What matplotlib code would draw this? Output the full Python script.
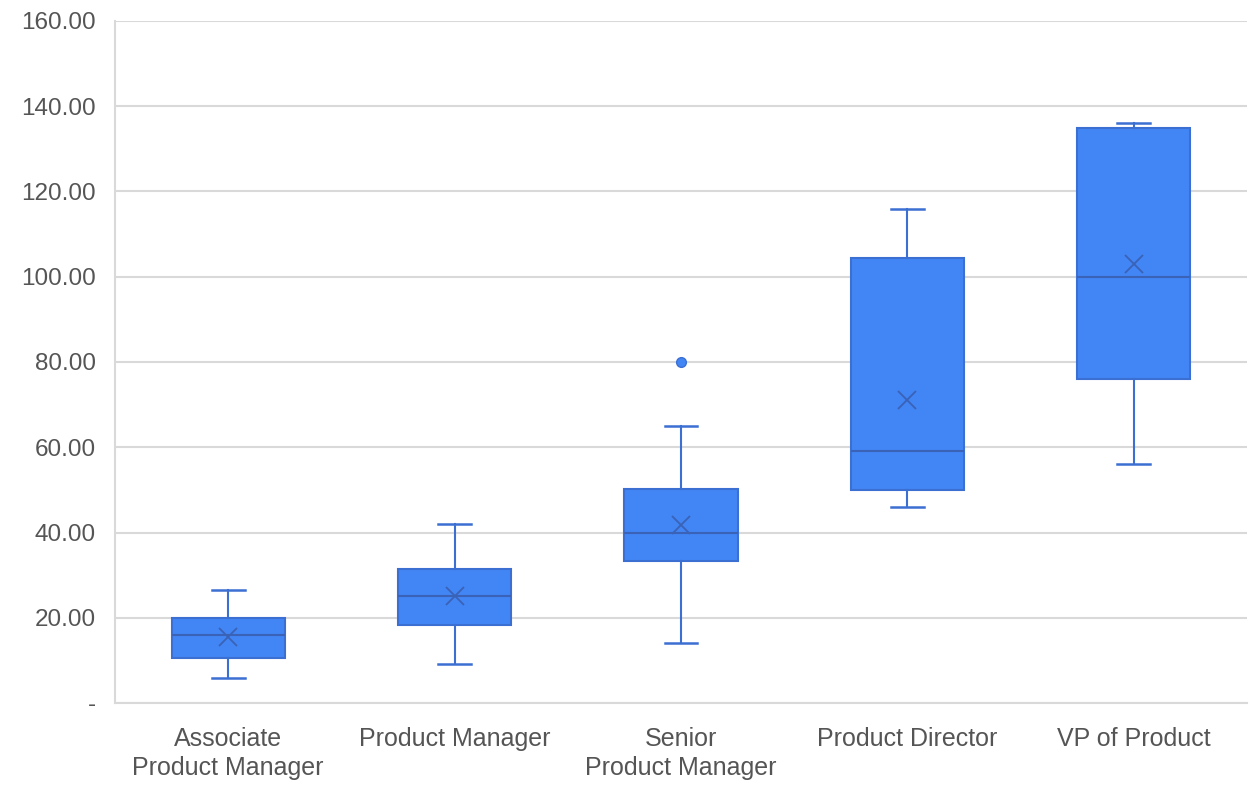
import matplotlib.pyplot as plt
import matplotlib.ticker as mticker

plt.rcParams['font.family'] = ['Liberation Sans', 'DejaVu Sans']

categories = ['Associate\nProduct Manager', 'Product Manager', 'Senior\nProduct Manager',
              'Product Director', 'VP of Product']
whisker_low = [5.8, 9.1, 14.0, 46.0, 56.0]
q1 = [10.6, 18.4, 33.2, 50.0, 76.0]
median = [16.0, 25.0, 40.0, 59.1, 100.0]
q3 = [20.0, 31.4, 50.1, 104.5, 134.9]
whisker_high = [26.5, 41.9, 65.0, 115.9, 136.0]
mean = [15.6, 25.1, 41.8, 71.1, 102.9]
outliers = [[], [], [80.0], [], []]

fill = '#4285F4'
edge = '#3C6FD2'
dark = '#3A63B8'

stats = []
for i in range(len(categories)):
    stats.append({
        'whislo': whisker_low[i], 'q1': q1[i], 'med': median[i], 'q3': q3[i],
        'whishi': whisker_high[i], 'mean': mean[i], 'fliers': outliers[i],
    })

fig = plt.figure(figsize=(12.6, 7.9), dpi=100)
ax = fig.add_axes([115 / 1260, 1 - 703 / 790, 1132 / 1260, 682 / 790])

ax.bxp(stats, positions=range(len(categories)), widths=0.5, capwidths=0.145,
       patch_artist=True, showmeans=True,
       boxprops=dict(facecolor=fill, edgecolor=edge, linewidth=1.5),
       medianprops=dict(color=dark, linewidth=1.5),
       whiskerprops=dict(color=edge, linewidth=1.5),
       capprops=dict(color=edge, linewidth=1.8),
       meanprops=dict(marker='x', markeredgecolor=dark, markersize=13, markeredgewidth=1.3),
       flierprops=dict(marker='o', markerfacecolor=fill, markeredgecolor=edge, markersize=7))

ax.set_xlim(-0.5, len(categories) - 0.5)
ax.set_ylim(0, 160)
ax.set_yticks(range(0, 161, 20))
ax.yaxis.set_major_formatter(mticker.FuncFormatter(lambda v, p: '-' if v == 0 else f'{v:.2f}'))
ax.set_xticks(range(len(categories)))
ax.set_xticklabels(categories, linespacing=1.3)

ax.grid(axis='y', color='#d9d9d9', linewidth=1.5)
ax.set_axisbelow(True)
for s in ['top', 'right']:
    ax.spines[s].set_visible(False)
ax.spines['left'].set_color('#d9d9d9')
ax.spines['left'].set_linewidth(1.5)
ax.spines['bottom'].set_color('#d9d9d9')
ax.spines['bottom'].set_linewidth(1.5)
ax.tick_params(length=0, labelcolor='#555555')
ax.tick_params(axis='y', pad=14, labelsize=17.5)
ax.tick_params(axis='x', pad=17, labelsize=18)

fig.savefig('out.png', dpi=100)
